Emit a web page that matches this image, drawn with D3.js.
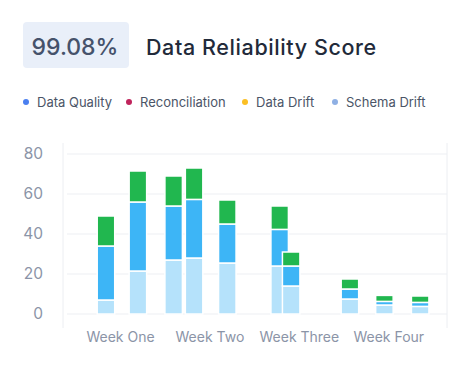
<!DOCTYPE html>
<html>
<head>
<meta charset="utf-8">
<script src="https://cdn.jsdelivr.net/npm/d3@7"></script>
<style>
  body { margin: 0; background: #fff; font-family: Inter, "Noto Sans", sans-serif; }
</style>
</head>
<body>
<svg id="chart" width="474" height="375"></svg>
<script>
// values
const score = '99.08%';
const title = 'Data Reliability Score';
const legendNames = ['Data Quality', 'Reconciliation', 'Data Drift', 'Schema Drift'];
const legendColors = ['#4a7ff0', '#c0245c', '#fbbf24', '#8fb0e4'];

const weekLabels = ['Week One', 'Week Two', 'Week Three', 'Week Four'];
const weekDays = [3.5, 10.5, 17.5, 24.5];

// each bar sits on a day, three stacked parts
const barDays = [2.4, 4.9, 7.7, 9.3, 11.9, 16.0, 16.9, 21.5, 24.2, 27.0];
const baseVals = [7, 21.5, 27, 28, 25.5, 24, 14, 7.5, 4.5, 3.8];
const midVals = [27, 34.5, 27, 29.3, 19.5, 18.3, 10, 5, 1.8, 2];
const topVals = [15, 15.5, 15, 15.7, 12, 11.7, 7, 5, 3, 3.2];
const partColors = ['#b5e2fb', '#3db5f6', '#21b74f'];

const yTicks = [0, 20, 40, 60, 80];

const svg = d3.select('#chart');

// header
svg.append('rect')
  .attr('x', 23).attr('y', 22).attr('width', 106).attr('height', 46)
  .attr('rx', 4).attr('fill', '#e9eff9');
svg.append('text')
  .attr('x', 75).attr('y', 55).attr('text-anchor', 'middle')
  .attr('font-size', 23).attr('font-weight', 500).attr('fill', '#45526b')
  .text(score);
svg.append('text')
  .attr('x', 146).attr('y', 55)
  .attr('font-size', 21.5).attr('font-weight', 500).attr('fill', '#222a3a')
  .attr('letter-spacing', 0.6)
  .text(title);

// legend
const legendX = [26, 129, 245, 335];
const lg = svg.selectAll('.lg').data(legendNames).enter().append('g')
  .attr('class', 'lg')
  .attr('transform', (d, i) => `translate(${legendX[i]},102)`);
lg.append('circle').attr('r', 3).attr('fill', (d, i) => legendColors[i]);
lg.append('text').attr('x', 11).attr('y', 4.5)
  .attr('font-size', 13).attr('fill', '#4b5567').text(d => d);

// chart area
const x = d3.scaleLinear().domain([-0.65, 29.1]).range([67, 447]);
const y = d3.scaleLinear().domain([0, 80]).range([314, 154]);

const grid = svg.append('g');
grid.selectAll('line').data(yTicks).enter().append('line')
  .attr('x1', 67).attr('x2', 447)
  .attr('y1', d => y(d)).attr('y2', d => y(d))
  .attr('stroke', '#eef0f3').attr('stroke-width', 1.2);
svg.append('line').attr('x1', 63).attr('x2', 63).attr('y1', 143).attr('y2', 328)
  .attr('stroke', '#eceef2');
svg.append('line').attr('x1', 447).attr('x2', 447).attr('y1', 143).attr('y2', 328)
  .attr('stroke', '#eceef2');

const yAxis = svg.append('g')
  .attr('transform', 'translate(43,0)')
  .call(d3.axisLeft(y).tickValues(yTicks).tickSize(0).tickPadding(0));
yAxis.select('.domain').remove();
yAxis.selectAll('text')
  .attr('font-family', 'Inter, "Noto Sans", sans-serif')
  .attr('font-size', 15.5).attr('fill', '#8b94a7');

const xAxis = svg.append('g')
  .attr('transform', 'translate(0,332)')
  .call(d3.axisBottom(x).tickValues(weekDays).tickFormat((d, i) => weekLabels[i]).tickSize(0).tickPadding(0));
xAxis.select('.domain').remove();
xAxis.selectAll('text')
  .attr('font-family', 'Inter, "Noto Sans", sans-serif')
  .attr('font-size', 14).attr('fill', '#8b94a7');

// stacked bars
const rows = barDays.map((d, i) => ({ day: d, base: baseVals[i], mid: midVals[i], top: topVals[i] }));
const stack = d3.stack().keys(['base', 'mid', 'top'])(rows);
const barW = 17.5;

const bars = svg.append('g');
rows.forEach((r, i) => {
  stack.forEach((layer, k) => {
    const seg = layer[i];
    bars.append('rect')
      .attr('x', x(r.day) - barW / 2)
      .attr('y', y(seg[1]))
      .attr('width', barW)
      .attr('height', y(seg[0]) - y(seg[1]))
      .attr('fill', partColors[k])
      .attr('stroke', '#fff').attr('stroke-width', 1.5);
  });
});
</script>
</body>
</html>
